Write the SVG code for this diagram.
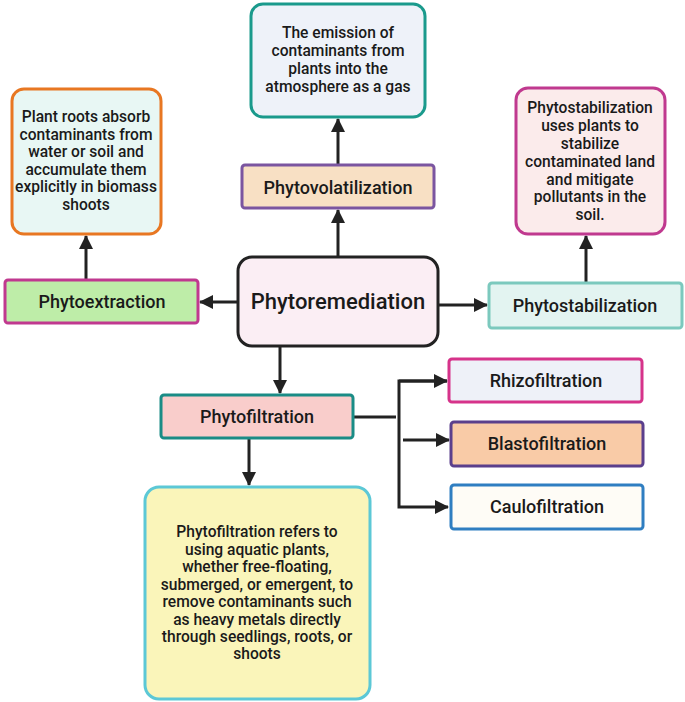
<svg xmlns="http://www.w3.org/2000/svg" width="685" height="702" viewBox="0 0 685 702">
<style>
text{font-family:Roboto,"Liberation Sans",sans-serif;font-weight:500;fill:#1a1a1a;text-anchor:middle;dominant-baseline:central}
.d{font-size:15.6px}
.t{font-size:18px}
.c{stroke:#222;stroke-width:3;fill:none}
</style>
<defs>
<marker id="ah" markerUnits="userSpaceOnUse" markerWidth="14" markerHeight="14" viewBox="0 0 14 14" refX="13" refY="7" orient="auto">
<path d="M0,0 L14,7 L0,14 Z" fill="#222"/>
</marker>
</defs>
<rect width="685" height="702" fill="#fff"/>
<g id="connectors">
<path class="c" d="M338,258 V210" marker-end="url(#ah)"/>
<path class="c" d="M338,165 V119" marker-end="url(#ah)"/>
<path class="c" d="M238,302 H200" marker-end="url(#ah)"/>
<path class="c" d="M86,280 V236" marker-end="url(#ah)"/>
<path class="c" d="M438,305 H487" marker-end="url(#ah)"/>
<path class="c" d="M586,283 V236" marker-end="url(#ah)"/>
<path class="c" d="M280,346 V393" marker-end="url(#ah)"/>
<path class="c" d="M249,438 V485" marker-end="url(#ah)"/>
<path class="c" d="M353,417 H396"/>
<path class="c" d="M447,381 H399 V507 H448" marker-end="url(#ah)"/>
<path class="c" d="M403,440 H449" marker-end="url(#ah)"/>
<path class="c" d="M399,381 H447" marker-end="url(#ah)"/>
</g>
<g id="phytoremediation">
<rect x="238" y="257" width="200" height="89" rx="14" fill="#FBEEF4" stroke="#222" stroke-width="3"/>
<text x="338" y="301" style="font-size:22px">Phytoremediation</text>
</g>
<g id="extraction-desc">
<rect x="12" y="89" width="149" height="145" rx="12" fill="#E8F7F4" stroke="#E87722" stroke-width="3"/>
<text class="d" x="86" y="117">Plant roots absorb</text>
<text class="d" x="86" y="134.5">contaminants from</text>
<text class="d" x="86" y="152">water or soil and</text>
<text class="d" x="86" y="169.5">accumulate them</text>
<text class="d" x="86" y="187">explicitly in biomass</text>
<text class="d" x="86" y="204.5">shoots</text>
</g>
<g id="volatilization-desc">
<rect x="251" y="4" width="174" height="113" rx="12" fill="#EEF2F9" stroke="#1A9A8C" stroke-width="3"/>
<text class="d" x="338" y="33">The emission of</text>
<text class="d" x="338" y="51">contaminants from</text>
<text class="d" x="338" y="69">plants into the</text>
<text class="d" x="338" y="87">atmosphere as a gas</text>
</g>
<g id="phytovolatilization">
<rect x="242" y="165" width="192" height="43" rx="3" fill="#F8E0C4" stroke="#7B55A0" stroke-width="3"/>
<text class="t" x="338" y="187">Phytovolatilization</text>
</g>
<g id="stabilization-desc">
<rect x="516" y="88" width="149" height="146" rx="12" fill="#FBEBEB" stroke="#C0398F" stroke-width="3"/>
<text class="d" x="590" y="108">Phytostabilization</text>
<text class="d" x="590" y="126">uses plants to</text>
<text class="d" x="590" y="144">stabilize</text>
<text class="d" x="590" y="162">contaminated land</text>
<text class="d" x="590" y="179.5">and mitigate</text>
<text class="d" x="590" y="197">pollutants in the</text>
<text class="d" x="590" y="215">soil.</text>
</g>
<g id="phytostabilization">
<rect x="489" y="283" width="193" height="45" rx="3" fill="#E3F4F1" stroke="#7CC9BE" stroke-width="3"/>
<text class="t" x="585" y="305">Phytostabilization</text>
</g>
<g id="phytoextraction">
<rect x="5" y="280" width="193" height="43" rx="3" fill="#BEEDA8" stroke="#C0398F" stroke-width="3"/>
<text class="t" x="102" y="301">Phytoextraction</text>
</g>
<g id="phytofiltration">
<rect x="161" y="395" width="192" height="43" rx="3" fill="#F9CDCB" stroke="#1A8C86" stroke-width="3"/>
<text class="t" x="257" y="416">Phytofiltration</text>
</g>
<g id="rhizofiltration">
<rect x="449" y="359" width="193" height="43" rx="3" fill="#EEF1F8" stroke="#D6338A" stroke-width="3"/>
<text class="t" x="546" y="380">Rhizofiltration</text>
</g>
<g id="blastofiltration">
<rect x="451" y="422" width="192" height="44" rx="3" fill="#F9CBA7" stroke="#5B3F8C" stroke-width="3"/>
<text class="t" x="547" y="443">Blastofiltration</text>
</g>
<g id="caulofiltration">
<rect x="451" y="485" width="192" height="44" rx="3" fill="#FEFCF6" stroke="#2F7EC1" stroke-width="3"/>
<text class="t" x="547" y="506">Caulofiltration</text>
</g>
<g id="filtration-desc">
<rect x="145" y="487" width="225" height="212" rx="14" fill="#FAF5BA" stroke="#5CC8D6" stroke-width="3"/>
<text class="d" x="257" y="532">Phytofiltration refers to</text>
<text class="d" x="257" y="550">using aquatic plants,</text>
<text class="d" x="257" y="567">whether free-floating,</text>
<text class="d" x="257" y="585">submerged, or emergent, to</text>
<text class="d" x="257" y="602">remove contaminants such</text>
<text class="d" x="257" y="620">as heavy metals directly</text>
<text class="d" x="257" y="637">through seedlings, roots, or</text>
<text class="d" x="257" y="654">shoots</text>
</g>
</svg>
